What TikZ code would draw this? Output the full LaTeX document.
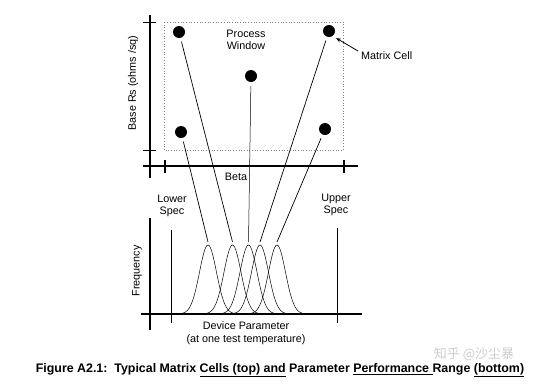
\documentclass[tikz,border=0pt]{standalone}
\usepackage{fontspec}
\setmainfont{Liberation Sans}
\newfontfamily\cjk{Noto Sans CJK SC}
\usetikzlibrary{arrows.meta}
\begin{document}
\begin{tikzpicture}[x=1pt,y=-1pt,
  axis/.style={line width=1.6pt},
  cell/.style={circle,fill=black,inner sep=0pt,minimum size=12pt,outer sep=4pt},
  link/.style={line width=0.7pt},
  lbl/.style={font=\fontsize{10.8}{12.5}\selectfont,align=center,inner sep=0pt},
  gauss/.style={line width=0.5pt}]
\useasboundingbox (0,0) rectangle (537,386);
% top plot axes
\draw[axis] (150,15) -- (150,178);
\draw[axis] (143,166) -- (358,166);
\draw[line width=1pt] (143,22) -- (156,22);
\draw[line width=1pt] (143,150) -- (156,150);
\draw[line width=1.4pt] (165,160) -- (165,173);
\draw[line width=1.4pt] (344,160) -- (344,173);
\draw[dotted,line width=0.7pt,gray] (164,22) rectangle (343,150);
\node[lbl,rotate=90] (ylab) at (133,83) {Base Rs (ohms /sq)};
\node[lbl] (beta) at (236,177) {Beta};
\node[lbl] (pw) at (246,40) {Process\\Window};
% cells
\node[cell] (c1) at (179,32) {};
\node[cell] (c2) at (329,31) {};
\node[cell] (c3) at (251,76) {};
\node[cell] (c4) at (181,132) {};
\node[cell] (c5) at (325,129) {};
\node[lbl,anchor=west] (mc) at (361,56) {Matrix Cell};
\draw[-{Stealth[length=5pt,width=4pt]},line width=0.8pt] (mc.west) ++(-3,-5) coordinate (mcs) -- (c2.south east);
% bottom plot
\draw[axis] (150,218) -- (150,330);
\draw[axis] (141,314) -- (362,314);
\draw[line width=0.6pt] (171,230) -- (171,323);
\draw[line width=0.6pt] (337,228) -- (337,323);
\node[lbl] (ls) at (172,206) {Lower\\Spec};
\node[lbl] (us) at (336,205) {Upper\\Spec};
\node[lbl,rotate=90] (fr) at (137,271) {Frequency};
\node[lbl] (dp) at (246,333) {Device Parameter\\(at one test temperature)};
% gaussians
\foreach \m/\n in {208/1,232.5/2,248.5/3,260/4,277/5}{
  \draw[gauss] plot[domain=-30:30,samples=61,smooth] ({\m+\x},{314-69*exp(-(\x*\x)/(2*8.5*8.5))});
  \coordinate (p\n) at (\m,242);
}
\draw[link] (c4) -- (p1);
\draw[link] (c1) -- (p2);
\draw[link,line width=0.5pt] (c3) -- (p3);
\draw[link] (c2) -- (p4);
\draw[link] (c5) -- (p5);
% caption
\node[font=\bfseries\fontsize{12.4}{14}\selectfont,inner sep=0pt] (cap) at (280,370)
  {Figure A2.1:\ \ Typical Matrix \underline{Cells (top) and} Parameter \underline{Performance }Range \underline{(bottom)}};
\node[font=\cjk\fontsize{13}{14}\selectfont,text=gray!40,inner sep=0pt] (wm) at (474,354) {知乎 @沙尘暴};
\end{tikzpicture}
\end{document}
